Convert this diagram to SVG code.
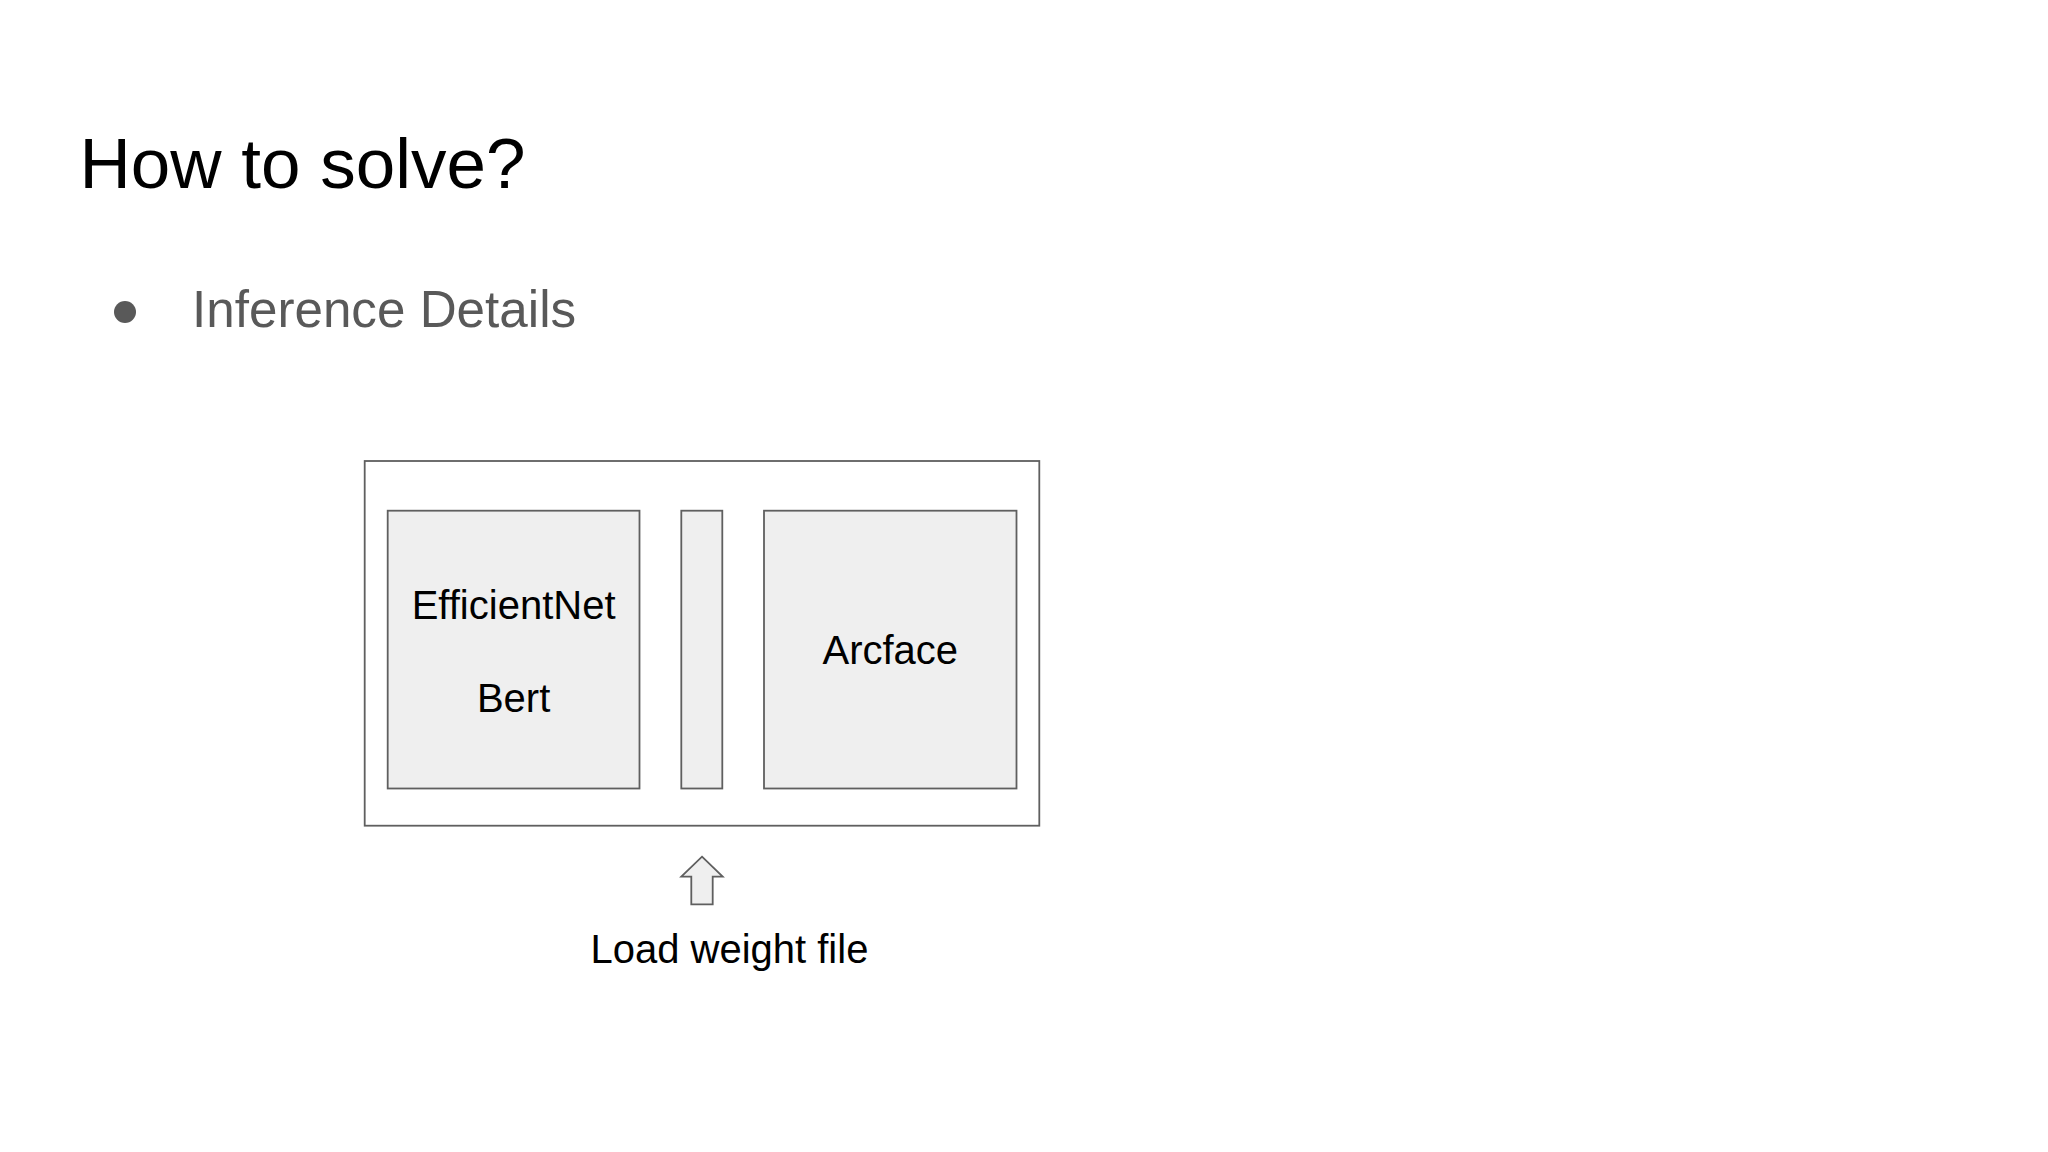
<svg xmlns="http://www.w3.org/2000/svg" width="2048" height="1152" viewBox="0 0 2048 1152">
<style>
  .box { fill: #efefef; stroke: #5f5f5f; stroke-width: 1.8; }
  .frame { fill: #ffffff; stroke: #5f5f5f; stroke-width: 1.8; }
  .lbl { font-family: "Liberation Sans", Arial, sans-serif; font-size: 40px; fill: #000000; text-anchor: middle; }
</style>
<rect x="0" y="0" width="2048" height="1152" fill="#ffffff"/>
<text x="79.5" y="188" font-family="'Liberation Sans', Arial, sans-serif" font-size="71" fill="#000000">How to solve?</text>
<circle cx="125" cy="312" r="11" fill="#595959"/>
<text x="192" y="327" font-family="'Liberation Sans', Arial, sans-serif" font-size="51.2" fill="#595959">Inference Details</text>
<g id="container">
  <rect class="frame" x="364.7" y="461" width="674.6" height="364.7"/>
</g>
<g id="encoders">
  <rect class="box" x="387.7" y="510.7" width="251.8" height="277.8"/>
  <text class="lbl" x="513.6" y="618.5">EfficientNet</text>
  <text class="lbl" x="513.6" y="711.7">Bert</text>
</g>
<g id="middle">
  <rect class="box" x="681.3" y="510.7" width="41" height="277.8"/>
</g>
<g id="arcface">
  <rect class="box" x="764" y="510.7" width="252.5" height="277.8"/>
  <text class="lbl" x="890.3" y="664">Arcface</text>
</g>
<g id="connectors">
  <polygon class="box" points="702,856.7 722.7,876.7 712.7,876.7 712.7,904.3 691.3,904.3 691.3,876.7 681.3,876.7"/>
</g>
<g id="load-label">
  <text class="lbl" x="729.4" y="962.7">Load weight file</text>
</g>
</svg>
